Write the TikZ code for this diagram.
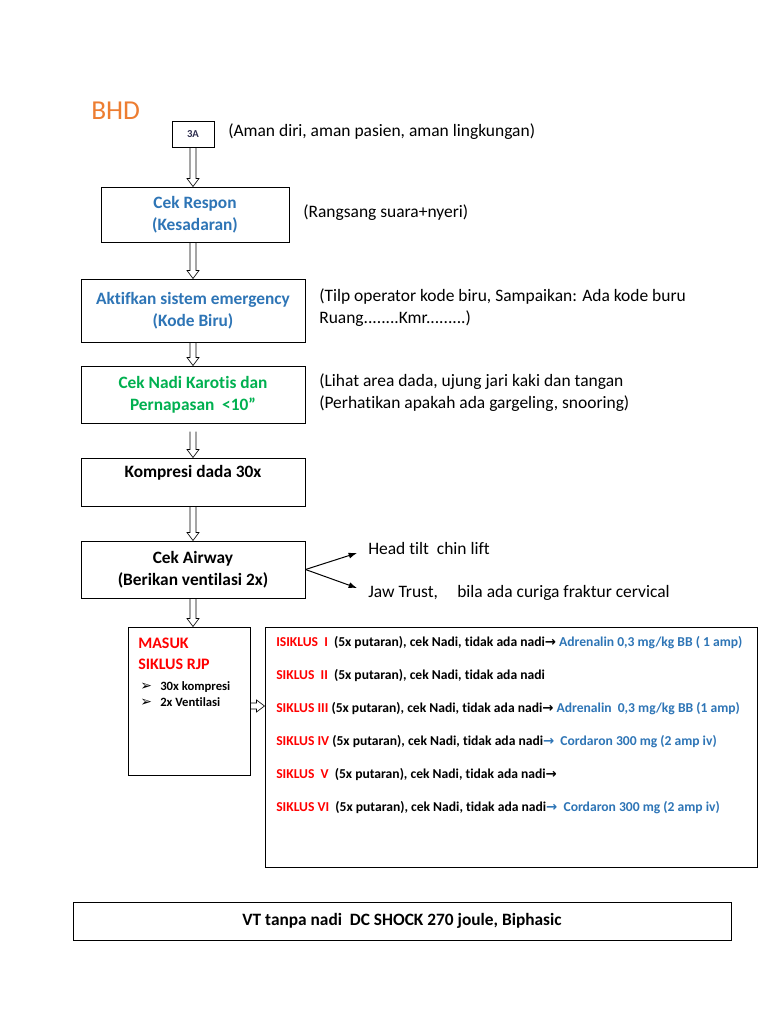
\documentclass[tikz,border=0pt]{standalone}
\usepackage{fontspec}
\setmainfont{Carlito}[Ligatures=NoCommon]
\newfontfamily\symfont{DejaVu Sans}
\usepackage{tikz}
\usetikzlibrary{arrows.meta,calc,positioning}
\definecolor{bhdorange}{HTML}{ED7D31}
\definecolor{kodeblue}{HTML}{2E75B6}
\definecolor{nadigreen}{HTML}{00B050}
\definecolor{rjpred}{HTML}{FF0000}
\definecolor{darkslate}{HTML}{2F2F4F}
\newcommand{\siklus}[1]{{\color{rjpred}#1}}
\newcommand{\obat}[1]{{\color{kodeblue}#1}}
\newcommand{\panah}{{\symfont\fontsize{10}{10}\selectfont →}}
\newcommand{\panahbiru}{{\color{kodeblue}\symfont\fontsize{10}{10}\selectfont →}}
\newcommand{\hollowarrow}[2]{%
  \coordinate (ha1) at (#1);
  \coordinate (ha2) at (#2);
  \coordinate (hab) at ($(ha2)!6pt!(ha1)$);
  \draw[hollow] ($(ha1)!2.25pt!90:(ha2)$) -- ($(hab)!2.25pt!90:(ha2)$) -- ($(hab)!4.5pt!90:(ha2)$) -- (ha2)
    -- ($(hab)!4.5pt!-90:(ha2)$) -- ($(hab)!2.25pt!-90:(ha2)$) -- ($(ha1)!2.25pt!-90:(ha2)$);}

\begin{document}
\begin{tikzpicture}[x=0.75pt,y=-0.75pt,
    box/.style={draw, line width=0.75pt, align=center, inner sep=2pt, font=\bfseries\fontsize{13}{16.5}\selectfont},
    note/.style={anchor=west, align=left, inner sep=0pt, font=\fontsize{13.1}{16.5}\selectfont},
    hollow/.style={line width=0.5pt},
    arrow/.style={-{Latex[length=2.2mm,width=1.6mm]}, line width=0.75pt}
  ]
  \useasboundingbox[fill=white] (0,0) rectangle (768,1024);

  \node[anchor=west, inner sep=0pt, text=bhdorange, font=\fontsize{20.5}{21}\selectfont] (bhd) at (91,111) {BHD};

  % main column
  \node[box, minimum width=31.5pt, minimum height=19.5pt, text=darkslate, font=\bfseries\fontsize{8}{9}\selectfont] (top) at (193,134) {3A};
  \node[box, minimum width=141pt, minimum height=41.25pt, text=kodeblue] (respon) at (195,214.5) {Cek Respon\\(Kesadaran)};
  \node[box, minimum width=168pt, minimum height=47.25pt, text=kodeblue] (aktif) at (193,310.5) {Aktifkan sistem emergency\\(Kode Biru)};
  \node[box, minimum width=168pt, minimum height=42.75pt, text=nadigreen] (nadi) at (193,394.5) {Cek Nadi Karotis dan\\Pernapasan\ \ <10”};
  \node[box, minimum width=168pt, minimum height=36pt] (kompresi) at (193,482) {Kompresi dada 30x\\\mbox{}};
  \node[box, minimum width=168pt, minimum height=42.75pt] (airway) at (193,569.5) {Cek Airway\\(Berikan ventilasi 2x)};
  \node[box, minimum width=91.5pt, minimum height=111pt] (masuk) at (189,701) {};
  \node[box, minimum width=369pt, minimum height=180pt] (siklus) at (511,747.5) {};
  \node[box, minimum width=493.5pt, minimum height=28.5pt] (vt) at (402,921) {VT tanpa nadi\ \ DC SHOCK 270 joule, Biphasic};

  % notes
  \node[note] (aman) at (228,132) {(Aman diri, aman pasien, aman lingkungan)};
  \node[note] (rangsang) at (303,213) {(Rangsang suara+nyeri)};
  \node[note] (tilp) at (319,308) {(Tilp operator kode biru, Sampaikan: Ada kode buru\\Ruang........Kmr.........)};
  \node[note] (lihat) at (319,393) {(Lihat area dada, ujung jari kaki dan tangan\\(Perhatikan apakah ada gargeling, snooring)};
  \node[note] (head) at (368,548) {Head tilt\ \ chin lift};
  \node[note] (jaw) at (368,593) {Jaw Trust,\hspace{1.1em}bila ada curiga fraktur cervical};

  % RJP box contents
  \node[anchor=north west, align=left, inner sep=0pt, text=rjpred, font=\bfseries\fontsize{12}{15.75}\selectfont] (rjp) at (138,638) {MASUK\\SIKLUS RJP};
  \node[anchor=north west, align=left, inner sep=0pt, font=\bfseries\fontsize{9.5}{12}\selectfont] (langkah) at (140,681)
    {\makebox[15pt][l]{\symfont\fontsize{10.5}{10.5}\selectfont ➢}30x kompresi\\\makebox[15pt][l]{\symfont\fontsize{10.5}{10.5}\selectfont ➢}2x Ventilasi};
  \node[anchor=north west, align=left, inner sep=0pt, font=\bfseries\fontsize{10.2}{24.75}\selectfont] (daftar) at (276,636)
    {\siklus{ISIKLUS\ \ I}\ \ (5x putaran), cek Nadi, tidak ada nadi\panah\ \obat{Adrenalin 0,3 mg/kg BB ( 1 amp)}\\
     \siklus{SIKLUS\ \ II}\ \ (5x putaran), cek Nadi, tidak ada nadi\\
     \siklus{SIKLUS III} (5x putaran), cek Nadi, tidak ada nadi\panah\ \obat{Adrenalin\ \ 0,3 mg/kg BB (1 amp)}\\
     \siklus{SIKLUS IV} (5x putaran), cek Nadi, tidak ada nadi\panahbiru\ \ \obat{Cordaron 300 mg (2 amp iv)}\\
     \siklus{SIKLUS\ \ V}\ \ (5x putaran), cek Nadi, tidak ada nadi\panah\\
     \siklus{SIKLUS VI}\ \ (5x putaran), cek Nadi, tidak ada nadi\panahbiru\ \ \obat{Cordaron 300 mg (2 amp iv)}};

  % connectors
  \hollowarrow{top.south}{respon.north -| top.south}
  \hollowarrow{respon.south -| top.south}{aktif.north}
  \hollowarrow{aktif.south}{nadi.north}
  \hollowarrow{$(nadi.south)+(0,8)$}{kompresi.north}
  \hollowarrow{kompresi.south}{airway.north}
  \hollowarrow{airway.south}{masuk.north -| airway.south}
  \hollowarrow{$(masuk.east)+(0,5)$}{$(siklus.west |- masuk.east)+(0,5)$}
  \coordinate (headtip) at (357,553);
  \coordinate (jawtip) at (357,588);
  \draw[arrow] (airway.east) -- (headtip);
  \draw[arrow] (airway.east) -- (jawtip);
\end{tikzpicture}
\end{document}
